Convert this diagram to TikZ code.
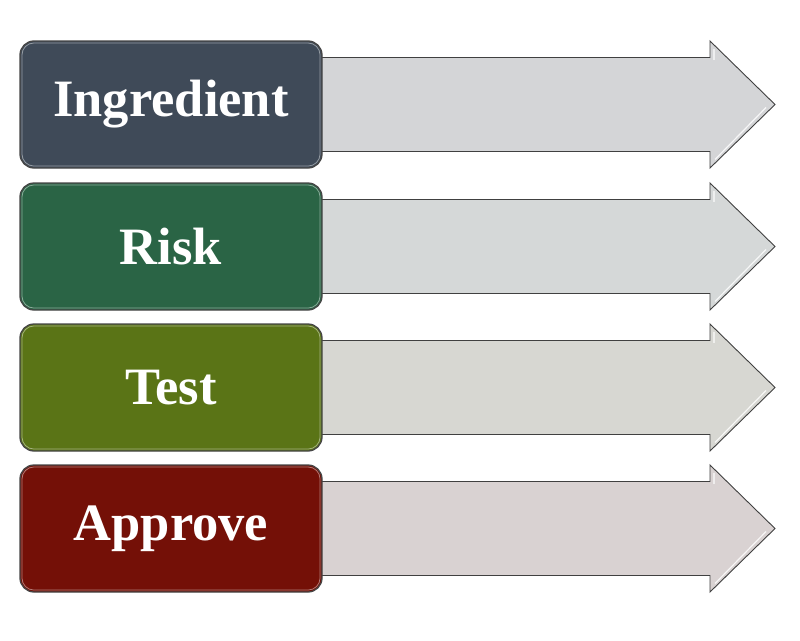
\documentclass[tikz,border=0pt]{standalone}
\usepackage{fontspec}
\setmainfont{Liberation Serif}
\usetikzlibrary{calc}

\definecolor{slatebox}{HTML}{3F4A58}
\definecolor{greenbox}{HTML}{2A6445}
\definecolor{olivebox}{HTML}{5A7416}
\definecolor{maroonbox}{HTML}{741007}
\definecolor{slatearr}{HTML}{D4D5D7}
\definecolor{greenarr}{HTML}{D5D8D8}
\definecolor{olivearr}{HTML}{D7D7D2}
\definecolor{maroonarr}{HTML}{D9D2D2}

\begin{document}
\begin{tikzpicture}[x=1pt,y=-1pt]
    \tikzset{
        stepbox/.style={draw=gray!55!black, line width=1.3pt, rounded corners=14pt,
            minimum width=302pt, minimum height=127pt, inner sep=0pt, text=white,
            font=\fontsize{52.5}{58}\selectfont\bfseries},
        steparrow/.style={draw=black!75, line width=0.9pt, line join=miter}
    }
    % Page:
    \useasboundingbox[fill=white] (0,0) rectangle (800,640);

    % Rows:
    % Each row is an arrow shape first, then the coloured box on top of its tail
    \foreach \y/\name/\txt/\boxcol/\arrcol in {104.5/ingr/Ingredient/slatebox/slatearr,
        246.5/risk/Risk/greenbox/greenarr, 387.5/test/Test/olivebox/olivearr,
        528.5/appr/Approve/maroonbox/maroonarr}{%
        % Arrow
        \draw [steparrow, fill=\arrcol] (300,\y-47) -- (710,\y-47) -- (710,\y-63.5)
            -- (775,\y) -- (710,\y+63.5) -- (710,\y+47) -- (300,\y+47) -- cycle;
        \draw [white, line width=1.2pt, opacity=0.8] (715,\y+55) -- (766,\y+3);
        \draw [white, line width=1.2pt, opacity=0.6] (714,\y-56) -- (714,\y-45);
        % Box
        \node [stepbox, fill=\boxcol] (\name) at (171,\y) {\txt};
        \draw [\boxcol!55!white, line width=0.8pt, rounded corners=12pt]
            ($(\name.north west)+(2.6,2.6)$) rectangle ($(\name.south east)+(-2.6,-2.6)$);
    }
\end{tikzpicture}
\end{document}
